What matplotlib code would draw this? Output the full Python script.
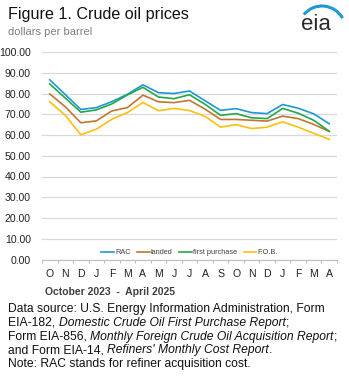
import numpy as np
import matplotlib
matplotlib.use('Agg')
import matplotlib.pyplot as plt
from matplotlib.patches import Arc

plt.rcParams['font.family'] = ['Liberation Sans', 'DejaVu Sans']

# monthly prices, Oct 2023 - Apr 2025 (dollars per barrel)
months = ['O', 'N', 'D', 'J', 'F', 'M', 'A', 'M', 'J', 'J', 'A', 'S',
          'O', 'N', 'D', 'J', 'F', 'M', 'A']
rac = [86.6, 79.5, 72.3, 73.2, 76.1, 79.6, 84.2, 80.4, 80.0, 81.2, 76.5, 71.9,
       72.7, 70.8, 70.3, 74.7, 72.9, 70.2, 65.4]
landed = [79.8, 73.6, 65.9, 66.8, 71.6, 73.2, 79.2, 76.0, 75.6, 76.7, 72.5, 67.5,
          67.5, 67.1, 66.7, 69.1, 67.9, 65.1, 61.7]
first_purchase = [84.6, 77.8, 71.0, 72.1, 75.0, 79.3, 83.0, 78.3, 77.5, 79.4, 74.8, 69.5,
                  70.3, 68.3, 67.9, 72.8, 70.5, 67.1, 61.8]
fob = [76.0, 69.5, 60.1, 62.8, 67.6, 70.8, 75.7, 71.7, 72.8, 71.8, 69.0, 63.8,
       65.0, 63.1, 63.8, 66.3, 63.8, 60.8, 57.9]
yticks = np.arange(0, 101, 10)

W, H = 349, 378
fig = plt.figure(figsize=(W / 100, H / 100), dpi=100)
fig.patch.set_facecolor('white')

ax = fig.add_axes([42 / W, 1 - 259.5 / H, 295 / W, 207.5 / H])
x = np.arange(len(months))
ax.plot(x, rac, color='#1f97d4', lw=1.2, label='RAC')
ax.plot(x, landed, color='#c0762f', lw=1.2, label='landed')
ax.plot(x, first_purchase, color='#22a84a', lw=1.2, label='first purchase')
ax.plot(x, fob, color='#fdc010', lw=1.2, label='F.O.B.')

ax.set_xlim(-0.5, len(months) - 0.5)
ax.set_ylim(0, 100)
ax.set_yticks(yticks)
ax.set_yticklabels(['%.2f' % v for v in yticks], fontsize=7.6, color='#222222')
ax.set_xticks(x)
ax.set_xticklabels(months, fontsize=7.6, color='#222222')
ax.set_xticks(np.arange(-0.5, len(months), 1), minor=True)
ax.tick_params(axis='x', which='major', length=0, pad=7)
ax.tick_params(axis='x', which='minor', length=2.5, color='#bfbfbf', width=0.8)
ax.tick_params(axis='y', length=0, pad=8)
ax.grid(axis='y', color='#d9d9d9', lw=0.9)
ax.set_axisbelow(True)
for s in ['top', 'right', 'left']:
    ax.spines[s].set_visible(False)
ax.spines['bottom'].set_color('#bfbfbf')
ax.spines['bottom'].set_linewidth(0.8)

ax.legend(loc='center', bbox_to_anchor=(0.5, 0.032), ncol=4, frameon=False,
          fontsize=5.3, handlelength=1.7, handletextpad=0.15, columnspacing=0.9,
          labelcolor='#404040')

# title block
fig.text(8 / W, 1 - 15 / H, 'Figure 1. Crude oil prices', fontsize=11.6, color='#111111', va='center')
fig.text(8 / W, 1 - 32 / H, 'dollars per barrel', fontsize=8, color='#7f7f7f', va='center')

# eia logo
fig.text(316 / W, 1 - 25 / H, 'eia', fontsize=16, color='#2b2b2b', ha='center', va='center')
fig.patches.append(Arc((322 / W, 1 - 31 / H), 48 / W, 50 / H, theta1=30, theta2=140,
                       transform=fig.transFigure, color='#1b9ad6', lw=2.2))

fig.text(45 / W, 1 - 292 / H, 'October 2023  -  April 2025', fontsize=7.5, color='#404040',
         va='center', weight='bold')

# footer with italic report names
renderer = fig.canvas.get_renderer()
footer = [
    [('Data source: U.S. Energy Information Administration, Form', 'normal')],
    [('EIA-182, ', 'normal'), ('Domestic Crude Oil First Purchase Report', 'italic'), (';', 'normal')],
    [('Form EIA-856, ', 'normal'), ('Monthly Foreign Crude Oil Acquisition Report', 'italic'), (';', 'normal')],
    [('and Form EIA-14, ', 'normal'), ("Refiners' Monthly Cost Report", 'italic'), ('.', 'normal')],
    [('Note: RAC stands for refiner acquisition cost.', 'normal')],
]
y0 = 309
for i, line in enumerate(footer):
    xp = 8
    for txt, style in line:
        t = fig.text(xp / W, 1 - (y0 + i * 13.8) / H, txt, fontsize=8.7, style=style,
                     color='#111111', va='center')
        bb = t.get_window_extent(renderer)
        xp += bb.width

fig.savefig('out.png', dpi=100)
